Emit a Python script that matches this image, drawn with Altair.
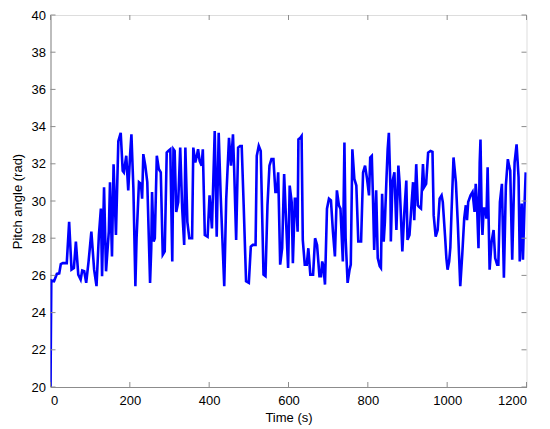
import altair as alt
import pandas as pd

time_s = [0, 2, 9, 16, 22, 26, 31, 41, 47, 53, 59, 64, 70, 76, 80, 85, 90, 96, 103, 110,
          116, 122, 127, 130, 135, 140, 147, 150, 155, 159, 165, 171, 177, 182, 185, 191, 196, 201, 204, 209,
          214, 217, 223, 228, 231, 234, 239, 244, 251, 254, 256, 260, 263, 268, 273, 278, 283, 288, 293, 297,
          302, 307, 310, 313, 317, 322, 327, 332, 337, 340, 345, 350, 357, 360, 365, 369, 372, 376, 381, 384,
          389, 396, 401, 407, 414, 419, 424, 429, 438, 443, 450, 455, 460, 463, 468, 473, 478, 482, 487, 493,
          500, 505, 510, 517, 520, 525, 530, 537, 542, 547, 552, 557, 562, 567, 571, 574, 579, 584, 589, 594,
          599, 603, 608, 611, 616, 619, 623, 625, 630, 633, 636, 641, 646, 650, 655, 662, 667, 672, 678, 682,
          685, 688, 692, 697, 702, 707, 712, 717, 722, 727, 731, 737, 741, 744, 749, 754, 757, 761, 766, 771,
          776, 783, 788, 793, 798, 803, 806, 810, 813, 816, 821, 825, 830, 833, 836, 840, 843, 847, 850, 853,
          857, 858, 862, 867, 872, 877, 880, 887, 892, 897, 900, 905, 910, 914, 917, 922, 926, 929, 934, 939,
          942, 947, 952, 958, 963, 966, 971, 976, 981, 986, 989, 995, 998, 1001, 1005, 1008, 1011, 1016, 1022, 1027,
          1033, 1038, 1043, 1047, 1050, 1053, 1059, 1064, 1069, 1072, 1075, 1079, 1082, 1084, 1087, 1089, 1092, 1096, 1099, 1102,
          1107, 1112, 1117, 1121, 1126, 1129, 1133, 1138, 1143, 1148, 1153, 1156, 1159, 1164, 1170, 1175, 1180, 1183, 1188, 1191,
          1195, 1198]

pitch = [20.0, 25.73, 25.69, 26.08, 26.11, 26.61, 26.66, 26.66, 28.88, 26.31, 26.40, 27.82, 26.04, 25.78, 26.26, 26.22, 25.60, 26.75, 28.35, 26.31,
         25.42, 28.17, 29.59, 25.96, 30.74, 26.22, 28.35, 31.01, 27.02, 31.98, 28.17, 33.22, 33.67, 31.63, 31.54, 32.43, 30.57, 32.60, 33.58, 30.65,
         25.42, 28.00, 31.01, 30.92, 30.12, 32.52, 31.90, 31.01, 25.60, 27.46, 30.48, 27.82, 28.00, 32.43, 31.72, 31.54, 27.11, 27.29, 32.60, 32.69,
         32.78, 26.75, 32.78, 32.69, 29.41, 29.94, 32.87, 29.59, 27.64, 32.87, 28.88, 28.00, 28.00, 32.87, 32.07, 32.43, 32.78, 32.16, 31.90, 32.78,
         28.17, 28.08, 30.30, 28.53, 33.76, 28.08, 33.67, 30.30, 25.42, 30.12, 33.40, 31.90, 33.58, 31.72, 27.91, 32.87, 32.96, 32.96, 29.77, 25.69,
         25.60, 27.55, 27.64, 27.64, 32.43, 32.96, 32.69, 26.04, 25.96, 29.77, 31.90, 32.25, 32.25, 30.48, 30.48, 31.54, 26.58, 27.46, 31.45, 28.88,
         26.40, 30.83, 29.94, 26.66, 30.12, 30.12, 28.35, 33.31, 33.40, 33.49, 27.91, 26.58, 26.58, 27.46, 26.04, 26.04, 28.00, 27.64, 25.96, 25.96,
         26.75, 26.49, 25.51, 29.59, 30.12, 30.03, 28.35, 27.02, 30.57, 29.77, 29.59, 26.75, 33.14, 28.00, 25.60, 26.31, 26.58, 32.78, 31.19, 30.83,
         27.82, 27.82, 31.54, 31.90, 31.19, 30.30, 32.34, 32.43, 30.12, 27.37, 30.57, 26.93, 26.49, 26.40, 30.39, 27.82, 28.88, 31.19, 32.78, 33.67,
         30.65, 27.82, 31.01, 31.54, 28.44, 31.90, 31.01, 27.29, 29.41, 31.10, 27.91, 28.17, 29.77, 31.01, 28.97, 31.98, 29.77, 29.68, 29.59, 31.98,
         30.74, 30.92, 32.60, 32.69, 32.64, 29.24, 28.08, 28.44, 30.12, 30.30, 29.94, 28.00, 26.93, 26.31, 26.75, 27.50, 29.41, 32.34, 31.01, 28.70,
         25.42, 27.11, 29.06, 29.77, 28.97, 29.94, 30.30, 30.48, 29.41, 30.92, 29.94, 27.46, 32.07, 33.31, 29.24, 28.17, 29.59, 29.59, 29.06, 31.81,
         26.31, 27.82, 28.44, 26.93, 26.58, 26.58, 29.94, 30.92, 25.87, 30.83, 32.25, 31.90, 31.63, 26.84, 32.07, 33.05, 31.28, 26.75, 29.86, 26.84,
         29.77, 31.54]

x_ticks = [0, 200, 400, 600, 800, 1000, 1200]
y_ticks = [20, 22, 24, 26, 28, 30, 32, 34, 36, 38, 40]

W, H = 476, 372
FONT = "Liberation Sans"
GRAY = "#8c8c8c"

df = pd.DataFrame({"t": time_s, "v": pitch, "i": list(range(len(time_s)))})
dfx = pd.DataFrame({"t": x_ticks})
dfy = pd.DataFrame({"v": y_ticks})

xscale = alt.Scale(domain=[0, 1200], nice=False, zero=False)
yscale = alt.Scale(domain=[20, 40], nice=False, zero=False)

xaxis = alt.Axis(values=x_ticks, format="d", ticks=False, grid=False, labelPadding=7, titlePadding=4,
                 domainColor=GRAY, labelFont=FONT, labelFontSize=13, labelColor="black",
                 titleFont=FONT, titleFontSize=13, titleFontWeight="normal", titleColor="black")
yaxis = alt.Axis(values=y_ticks, format="d", ticks=False, grid=False, labelPadding=5, titlePadding=7,
                 domainColor=GRAY, labelFont=FONT, labelFontSize=13, labelColor="black",
                 titleFont=FONT, titleFontSize=13, titleFontWeight="normal", titleColor="black")

X = alt.X("t:Q", scale=xscale, axis=xaxis, title="Time (s)")
Y = alt.Y("v:Q", scale=yscale, axis=yaxis, title="Pitch angle (rad)")

line = alt.Chart(df).mark_line(color="#0000ff", strokeWidth=2.6, clip=True).encode(
    x=X, y=Y, order="i:Q")

tb = alt.Chart(dfx).mark_rule(color=GRAY, strokeWidth=1).encode(x=X, y=alt.value(H), y2=alt.value(H - 5))
tt = alt.Chart(dfx).mark_rule(color=GRAY, strokeWidth=1).encode(x=X, y=alt.value(0), y2=alt.value(5))
tl = alt.Chart(dfy).mark_rule(color=GRAY, strokeWidth=1).encode(y=Y, x=alt.value(0), x2=alt.value(5))
tr = alt.Chart(dfy).mark_rule(color=GRAY, strokeWidth=1).encode(y=Y, x=alt.value(W), x2=alt.value(W - 5))

chart = alt.layer(line, tb, tt, tl, tr).properties(
    width=W, height=H,
    autosize=alt.AutoSizeParams(type="none"),
    padding={"left": 42.5, "top": 7, "right": 15, "bottom": 40},
).configure_view(stroke=GRAY, strokeWidth=1).configure(background="white")

chart.save("out.html", embed_options={"renderer": "svg", "actions": False})
